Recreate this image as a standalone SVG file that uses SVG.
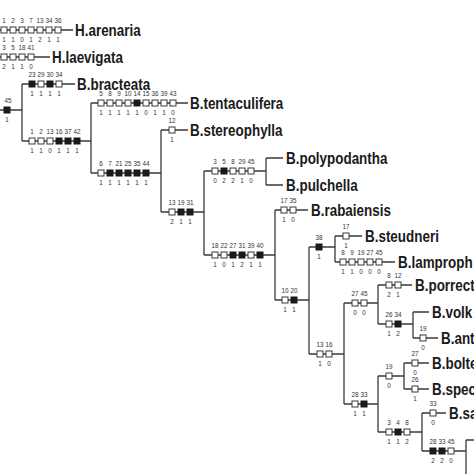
<svg xmlns="http://www.w3.org/2000/svg" width="474" height="474" viewBox="0 0 474 474">
<style>
.ln{stroke:#3a3a3a;stroke-width:1.3;fill:none}
.w{fill:#fff;stroke:#3a3a3a;stroke-width:1}
.b{fill:#1a1a1a;stroke:#1a1a1a;stroke-width:1}
.n{font-family:"Liberation Sans",Arial,sans-serif;font-size:6.3px;text-anchor:middle;fill:#333}
.lab{font-family:"Liberation Sans",Arial,sans-serif;font-size:16px;font-weight:bold;fill:#1a1a1a}
</style>
<rect width="474" height="474" fill="#fff"/>
<g id="connectors" class="ln">
<path d="M0 30H73M0 57H50"/>
<path d="M0 110H22M22 84V141M22 84H75M22 141H91"/>
<path d="M91 103V173M91 103H188M91 173H161"/>
<path d="M161 130V212M161 130H188M161 212H204"/>
<path d="M204 171V255M204 171H266M204 255H275"/>
<path d="M266 158V185M266 158H283M266 185H283"/>
<path d="M275 210V300M275 210H308M275 300H309"/>
<path d="M309 247V354M309 247H335M309 354H344"/>
<path d="M335 236V262M335 236H362M335 262H395"/>
<path d="M344 303V404M344 303H378M344 404H378"/>
<path d="M378 285V324M378 285H412M378 324H413"/>
<path d="M413 312V338M413 312H429M413 338H438"/>
<path d="M378 376V432M378 376H404M378 432H422"/>
<path d="M404 363V389M404 363H429M404 389H429"/>
<path d="M422 413V451M422 413H446M422 451H466"/>
<path d="M466 440V474M466 440H474"/>
</g>
<g id="H_arenaria">
<rect class="w" x="1" y="27" width="6" height="6"/><rect class="w" x="10" y="27" width="6" height="6"/><rect class="w" x="19" y="27" width="6" height="6"/><rect class="w" x="28" y="27" width="6" height="6"/><rect class="w" x="37" y="27" width="6" height="6"/><rect class="w" x="46" y="27" width="6" height="6"/><rect class="w" x="55" y="27" width="6" height="6"/>
<text class="n" y="23"><tspan x="4">1</tspan><tspan x="13">2</tspan><tspan x="22">3</tspan><tspan x="31">7</tspan><tspan x="40">13</tspan><tspan x="49">34</tspan><tspan x="58">36</tspan></text>
<text class="n" y="42"><tspan x="4">1</tspan><tspan x="13">1</tspan><tspan x="22">0</tspan><tspan x="31">1</tspan><tspan x="40">2</tspan><tspan x="49">1</tspan><tspan x="58">1</tspan></text>
<text class="lab" transform="translate(75 36) scale(0.84 1)">H.arenaria</text>
</g>
<g id="H_laevigata">
<rect class="w" x="1" y="54" width="6" height="6"/><rect class="w" x="10" y="54" width="6" height="6"/><rect class="w" x="19" y="54" width="6" height="6"/><rect class="w" x="28" y="54" width="6" height="6"/>
<text class="n" y="50"><tspan x="4">3</tspan><tspan x="13">5</tspan><tspan x="22">18</tspan><tspan x="31">41</tspan></text>
<text class="n" y="69"><tspan x="4">2</tspan><tspan x="13">1</tspan><tspan x="22">1</tspan><tspan x="31">0</tspan></text>
<text class="lab" transform="translate(52 63) scale(0.84 1)">H.laevigata</text>
</g>
<g id="n45">
<rect class="b" x="4" y="107" width="6" height="6"/>
<text class="n" x="8" y="103">45</text>
<text class="n" x="7" y="122">1</text>
</g>
<g id="B_bracteata">
<rect class="b" x="29" y="81" width="6" height="6"/><rect class="w" x="38" y="81" width="6" height="6"/><rect class="b" x="47" y="81" width="6" height="6"/><rect class="w" x="56" y="81" width="6" height="6"/>
<text class="n" y="77"><tspan x="32">23</tspan><tspan x="41">29</tspan><tspan x="50">30</tspan><tspan x="59">34</tspan></text>
<text class="n" y="96"><tspan x="32">1</tspan><tspan x="41">1</tspan><tspan x="50">1</tspan><tspan x="59">1</tspan></text>
<text class="lab" transform="translate(77 90) scale(0.84 1)">B.bracteata</text>
</g>
<g id="n1_42">
<rect class="w" x="29" y="138" width="6" height="6"/><rect class="w" x="38" y="138" width="6" height="6"/><rect class="w" x="47" y="138" width="6" height="6"/><rect class="b" x="56" y="138" width="6" height="6"/><rect class="b" x="65" y="138" width="6" height="6"/><rect class="b" x="74" y="138" width="6" height="6"/>
<text class="n" y="134"><tspan x="32">1</tspan><tspan x="41">2</tspan><tspan x="50">13</tspan><tspan x="59">16</tspan><tspan x="68">37</tspan><tspan x="77">42</tspan></text>
<text class="n" y="153"><tspan x="32">1</tspan><tspan x="41">1</tspan><tspan x="50">0</tspan><tspan x="59">1</tspan><tspan x="68">1</tspan><tspan x="77">1</tspan></text>
</g>
<g id="B_tentaculifera">
<rect class="w" x="98" y="100" width="6" height="6"/><rect class="w" x="107" y="100" width="6" height="6"/><rect class="w" x="116" y="100" width="6" height="6"/><rect class="w" x="125" y="100" width="6" height="6"/><rect class="b" x="134" y="100" width="6" height="6"/><rect class="w" x="143" y="100" width="6" height="6"/><rect class="w" x="152" y="100" width="6" height="6"/><rect class="w" x="161" y="100" width="6" height="6"/><rect class="w" x="170" y="100" width="6" height="6"/>
<text class="n" y="96"><tspan x="101">5</tspan><tspan x="110">8</tspan><tspan x="119">9</tspan><tspan x="128">10</tspan><tspan x="137">14</tspan><tspan x="146">15</tspan><tspan x="155">36</tspan><tspan x="164">39</tspan><tspan x="173">43</tspan></text>
<text class="n" y="115"><tspan x="101">1</tspan><tspan x="110">1</tspan><tspan x="119">1</tspan><tspan x="128">1</tspan><tspan x="137">1</tspan><tspan x="146">0</tspan><tspan x="155">1</tspan><tspan x="164">1</tspan><tspan x="173">0</tspan></text>
<text class="lab" transform="translate(190 109) scale(0.84 1)">B.tentaculifera</text>
</g>
<g id="n6_44">
<rect class="w" x="98" y="170" width="6" height="6"/><rect class="b" x="107" y="170" width="6" height="6"/><rect class="b" x="116" y="170" width="6" height="6"/><rect class="b" x="125" y="170" width="6" height="6"/><rect class="b" x="134" y="170" width="6" height="6"/><rect class="b" x="143" y="170" width="6" height="6"/>
<text class="n" y="166"><tspan x="101">6</tspan><tspan x="110">7</tspan><tspan x="119">21</tspan><tspan x="128">25</tspan><tspan x="137">35</tspan><tspan x="146">44</tspan></text>
<text class="n" y="185"><tspan x="101">1</tspan><tspan x="110">1</tspan><tspan x="119">1</tspan><tspan x="128">1</tspan><tspan x="137">1</tspan><tspan x="146">1</tspan></text>
</g>
<g id="B_stereophylla">
<rect class="w" x="169" y="127" width="6" height="6"/>
<text class="n" x="172" y="123">12</text>
<text class="n" x="172" y="142">1</text>
<text class="lab" transform="translate(190 136) scale(0.84 1)">B.stereophylla</text>
</g>
<g id="n13_31">
<rect class="w" x="169" y="209" width="6" height="6"/><rect class="b" x="178" y="209" width="6" height="6"/><rect class="b" x="187" y="209" width="6" height="6"/>
<text class="n" y="205"><tspan x="172">13</tspan><tspan x="181">19</tspan><tspan x="190">31</tspan></text>
<text class="n" y="224"><tspan x="172">2</tspan><tspan x="181">1</tspan><tspan x="190">1</tspan></text>
</g>
<g id="n3_45">
<rect class="w" x="212" y="168" width="6" height="6"/><rect class="b" x="221" y="168" width="6" height="6"/><rect class="w" x="230" y="168" width="6" height="6"/><rect class="w" x="239" y="168" width="6" height="6"/><rect class="w" x="248" y="168" width="6" height="6"/>
<text class="n" y="164"><tspan x="215">3</tspan><tspan x="224">5</tspan><tspan x="233">8</tspan><tspan x="242">29</tspan><tspan x="251">45</tspan></text>
<text class="n" y="183"><tspan x="215">0</tspan><tspan x="224">2</tspan><tspan x="233">2</tspan><tspan x="242">1</tspan><tspan x="251">0</tspan></text>
</g>
<g id="B_polypodantha"><text class="lab" transform="translate(286 164) scale(0.84 1)">B.polypodantha</text></g>
<g id="B_pulchella"><text class="lab" transform="translate(286 191) scale(0.84 1)">B.pulchella</text></g>
<g id="n18_40">
<rect class="w" x="212" y="252" width="6" height="6"/><rect class="w" x="221" y="252" width="6" height="6"/><rect class="b" x="230" y="252" width="6" height="6"/><rect class="b" x="239" y="252" width="6" height="6"/><rect class="w" x="248" y="252" width="6" height="6"/><rect class="b" x="257" y="252" width="6" height="6"/>
<text class="n" y="248"><tspan x="215">18</tspan><tspan x="224">22</tspan><tspan x="233">27</tspan><tspan x="242">31</tspan><tspan x="251">39</tspan><tspan x="260">40</tspan></text>
<text class="n" y="267"><tspan x="215">1</tspan><tspan x="224">0</tspan><tspan x="233">1</tspan><tspan x="242">2</tspan><tspan x="251">1</tspan><tspan x="260">1</tspan></text>
</g>
<g id="B_rabaiensis">
<rect class="w" x="281" y="207" width="6" height="6"/><rect class="w" x="290" y="207" width="6" height="6"/>
<text class="n" y="203"><tspan x="284">17</tspan><tspan x="293">35</tspan></text>
<text class="n" y="222"><tspan x="284">1</tspan><tspan x="293">0</tspan></text>
<text class="lab" transform="translate(311 216) scale(0.84 1)">B.rabaiensis</text>
</g>
<g id="n10_20">
<rect class="w" x="282" y="297" width="6" height="6"/><rect class="b" x="291" y="297" width="6" height="6"/>
<text class="n" y="293"><tspan x="285">10</tspan><tspan x="294">20</tspan></text>
<text class="n" y="312"><tspan x="285">1</tspan><tspan x="294">1</tspan></text>
</g>
<g id="n38">
<rect class="b" x="316" y="244" width="6" height="6"/>
<text class="n" x="319" y="240">38</text>
<text class="n" x="319" y="259">1</text>
</g>
<g id="B_steudneri">
<rect class="w" x="343" y="233" width="6" height="6"/>
<text class="n" x="346" y="229">17</text>
<text class="n" x="346" y="248">1</text>
<text class="lab" transform="translate(365 242) scale(0.84 1)">B.steudneri</text>
</g>
<g id="B_lamproph">
<rect class="w" x="340" y="259" width="6" height="6"/><rect class="w" x="349" y="259" width="6" height="6"/><rect class="w" x="358" y="259" width="6" height="6"/><rect class="w" x="367" y="259" width="6" height="6"/><rect class="w" x="376" y="259" width="6" height="6"/>
<text class="n" y="255"><tspan x="343">8</tspan><tspan x="352">9</tspan><tspan x="361">19</tspan><tspan x="370">27</tspan><tspan x="379">45</tspan></text>
<text class="n" y="274"><tspan x="343">1</tspan><tspan x="352">1</tspan><tspan x="361">0</tspan><tspan x="370">0</tspan><tspan x="379">0</tspan></text>
<text class="lab" transform="translate(398 268) scale(0.84 1)">B.lamproph</text>
</g>
<g id="n13_16">
<rect class="w" x="317" y="351" width="6" height="6"/><rect class="w" x="326" y="351" width="6" height="6"/>
<text class="n" y="347"><tspan x="320">13</tspan><tspan x="329">16</tspan></text>
<text class="n" y="366"><tspan x="320">1</tspan><tspan x="329">0</tspan></text>
</g>
<g id="n27_45">
<rect class="w" x="352" y="300" width="6" height="6"/><rect class="w" x="361" y="300" width="6" height="6"/>
<text class="n" y="296"><tspan x="355">27</tspan><tspan x="364">45</tspan></text>
<text class="n" y="315"><tspan x="355">0</tspan><tspan x="364">0</tspan></text>
</g>
<g id="B_porrect">
<rect class="w" x="386" y="282" width="6" height="6"/><rect class="w" x="395" y="282" width="6" height="6"/>
<text class="n" y="278"><tspan x="389">8</tspan><tspan x="398">12</tspan></text>
<text class="n" y="297"><tspan x="389">2</tspan><tspan x="398">1</tspan></text>
<text class="lab" transform="translate(415 291) scale(0.84 1)">B.porrect</text>
</g>
<g id="n26_34">
<rect class="w" x="386" y="321" width="6" height="6"/><rect class="b" x="395" y="321" width="6" height="6"/>
<text class="n" y="317"><tspan x="389">26</tspan><tspan x="398">34</tspan></text>
<text class="n" y="336"><tspan x="389">1</tspan><tspan x="398">2</tspan></text>
</g>
<g id="B_volk"><text class="lab" transform="translate(432 318) scale(0.84 1)">B.volk</text></g>
<g id="B_ant">
<rect class="w" x="420" y="335" width="6" height="6"/>
<text class="n" x="423" y="331">19</text>
<text class="n" x="423" y="350">0</text>
<text class="lab" transform="translate(441 344) scale(0.84 1)">B.ant</text>
</g>
<g id="n28_33">
<rect class="w" x="352" y="401" width="6" height="6"/><rect class="b" x="361" y="401" width="6" height="6"/>
<text class="n" y="397"><tspan x="355">28</tspan><tspan x="364">33</tspan></text>
<text class="n" y="416"><tspan x="355">1</tspan><tspan x="364">1</tspan></text>
</g>
<g id="n19">
<rect class="w" x="386" y="373" width="6" height="6"/>
<text class="n" x="389" y="369">19</text>
<text class="n" x="389" y="388">0</text>
</g>
<g id="B_bolte">
<rect class="w" x="412" y="360" width="6" height="6"/>
<text class="n" x="415" y="356">27</text>
<text class="n" x="415" y="375">0</text>
<text class="lab" transform="translate(432 369) scale(0.84 1)">B.bolte</text>
</g>
<g id="B_spec">
<rect class="w" x="412" y="386" width="6" height="6"/>
<text class="n" x="415" y="382">26</text>
<text class="n" x="415" y="401">1</text>
<text class="lab" transform="translate(432 395) scale(0.84 1)">B.spec</text>
</g>
<g id="n3_8">
<rect class="w" x="386" y="429" width="6" height="6"/><rect class="b" x="395" y="429" width="6" height="6"/><rect class="w" x="404" y="429" width="6" height="6"/>
<text class="n" y="425"><tspan x="389">3</tspan><tspan x="398">4</tspan><tspan x="407">8</tspan></text>
<text class="n" y="444"><tspan x="389">1</tspan><tspan x="398">1</tspan><tspan x="407">2</tspan></text>
</g>
<g id="B_sa">
<rect class="w" x="430" y="410" width="6" height="6"/>
<text class="n" x="433" y="406">33</text>
<text class="n" x="433" y="425">0</text>
<text class="lab" transform="translate(449 419) scale(0.84 1)">B.sa</text>
</g>
<g id="n28_45">
<rect class="b" x="430" y="448" width="6" height="6"/><rect class="b" x="439" y="448" width="6" height="6"/><rect class="w" x="448" y="448" width="6" height="6"/>
<text class="n" y="444"><tspan x="433">28</tspan><tspan x="442">33</tspan><tspan x="451">45</tspan></text>
<text class="n" y="463"><tspan x="433">2</tspan><tspan x="442">2</tspan><tspan x="451">0</tspan></text>
</g>
</svg>
